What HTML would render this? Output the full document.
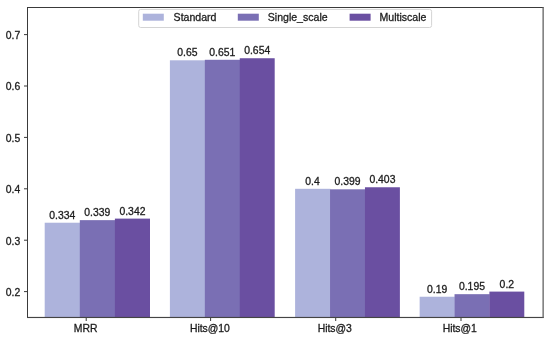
<!DOCTYPE html><html><head><meta charset="utf-8"><title>chart</title><style>html,body{margin:0;padding:0;background:#fff}svg{display:block}text{font-family:"Liberation Sans",Arial,sans-serif;font-size:10.4px;fill:#1c1c1c;stroke:#1c1c1c;stroke-width:0.3px}</style></head><body>
<svg width="550" height="340" viewBox="0 0 550 340">
<rect width="550" height="340" fill="#fff"/>
<rect x="44.70" y="222.72" width="35.40" height="94.78" fill="#adb3dc"/>
<text x="62.25" y="218.67" text-anchor="middle">0.334</text>
<rect x="79.80" y="220.15" width="35.40" height="97.35" fill="#7a6fb4"/>
<text x="97.35" y="216.10" text-anchor="middle">0.339</text>
<rect x="114.90" y="218.61" width="35.10" height="98.89" fill="#6a4fa1"/>
<text x="132.45" y="214.56" text-anchor="middle">0.342</text>
<rect x="169.90" y="60.30" width="35.23" height="257.20" fill="#adb3dc"/>
<text x="187.37" y="56.25" text-anchor="middle">0.65</text>
<rect x="204.83" y="59.79" width="35.23" height="257.71" fill="#7a6fb4"/>
<text x="222.30" y="55.74" text-anchor="middle">0.651</text>
<rect x="239.76" y="58.24" width="34.93" height="259.26" fill="#6a4fa1"/>
<text x="257.22" y="54.19" text-anchor="middle">0.654</text>
<rect x="295.10" y="188.80" width="35.23" height="128.70" fill="#adb3dc"/>
<text x="312.56" y="184.75" text-anchor="middle">0.4</text>
<rect x="330.03" y="189.31" width="35.23" height="128.19" fill="#7a6fb4"/>
<text x="347.50" y="185.26" text-anchor="middle">0.399</text>
<rect x="364.96" y="187.26" width="34.93" height="130.24" fill="#6a4fa1"/>
<text x="382.43" y="183.21" text-anchor="middle">0.403</text>
<rect x="419.65" y="296.74" width="35.18" height="20.76" fill="#adb3dc"/>
<text x="437.09" y="292.69" text-anchor="middle">0.19</text>
<rect x="454.53" y="294.17" width="35.18" height="23.33" fill="#7a6fb4"/>
<text x="471.97" y="290.12" text-anchor="middle">0.195</text>
<rect x="489.41" y="291.60" width="34.88" height="25.90" fill="#6a4fa1"/>
<text x="506.85" y="287.55" text-anchor="middle">0.2</text>
<rect x="27" y="7" width="1" height="311" fill="#3a3a3a"/>
<rect x="27" y="7" width="516.5" height="1" fill="#3a3a3a"/>
<rect x="27" y="316.9" width="516.7" height="1.15" fill="#444"/>
<rect x="542.5" y="7" width="1.25" height="311" fill="#5c5c5c"/>
<rect x="24" y="291.10" width="3.3" height="1" fill="#3a3a3a"/>
<text x="20.2" y="296.00" text-anchor="end">0.2</text>
<rect x="24" y="239.70" width="3.3" height="1" fill="#3a3a3a"/>
<text x="20.2" y="244.60" text-anchor="end">0.3</text>
<rect x="24" y="188.30" width="3.3" height="1" fill="#3a3a3a"/>
<text x="20.2" y="193.20" text-anchor="end">0.4</text>
<rect x="24" y="136.90" width="3.3" height="1" fill="#3a3a3a"/>
<text x="20.2" y="141.80" text-anchor="end">0.5</text>
<rect x="24" y="85.50" width="3.3" height="1" fill="#3a3a3a"/>
<text x="20.2" y="90.40" text-anchor="end">0.6</text>
<rect x="24" y="34.10" width="3.3" height="1" fill="#3a3a3a"/>
<text x="20.2" y="39.00" text-anchor="end">0.7</text>
<rect x="85.70" y="318" width="1" height="3" fill="#3a3a3a"/>
<text x="85.60" y="331.5" text-anchor="middle">MRR</text>
<rect x="210.10" y="318" width="1" height="3" fill="#3a3a3a"/>
<text x="209.90" y="331.5" text-anchor="middle">Hits@10</text>
<rect x="335.20" y="318" width="1" height="3" fill="#3a3a3a"/>
<text x="334.80" y="331.5" text-anchor="middle">Hits@3</text>
<rect x="460.50" y="318" width="1" height="3" fill="#3a3a3a"/>
<text x="459.80" y="331.5" text-anchor="middle">Hits@1</text>
<rect x="138.7" y="9.4" width="292.9" height="18.1" rx="2" ry="2" fill="#fff" fill-opacity="0.8" stroke="#d4d4d4" stroke-width="1"/>
<rect x="142.80" y="13.7" width="21" height="7" fill="#adb3dc"/>
<text x="173.60" y="20.8" style="font-size:10.55px">Standard</text>
<rect x="237.80" y="13.7" width="21" height="7" fill="#7a6fb4"/>
<text x="267.80" y="20.8" style="font-size:10.55px">Single_scale</text>
<rect x="349.60" y="13.7" width="21" height="7" fill="#6a4fa1"/>
<text x="379.50" y="20.8" style="font-size:10.55px">Multiscale</text>
</svg></body></html>
